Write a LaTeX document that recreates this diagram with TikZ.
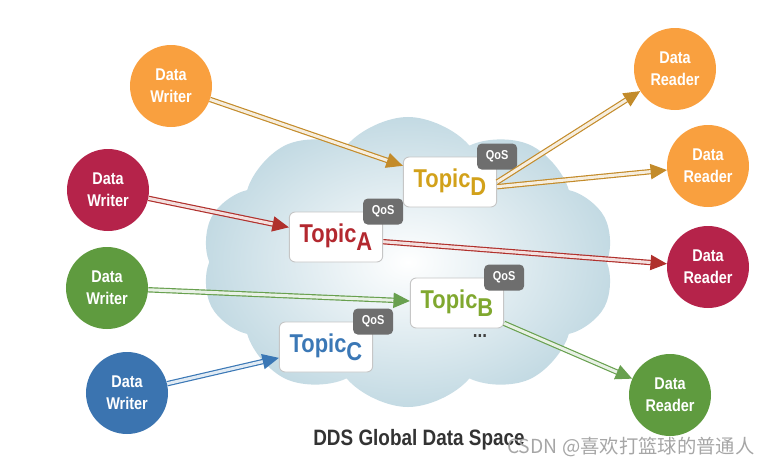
\documentclass[tikz,border=0pt]{standalone}
\usepackage{fontspec}
\usepackage{xcolor}
\usepackage{tikz}
\usetikzlibrary{arrows.meta}
\usetikzlibrary{shapes.symbols}
\usetikzlibrary{positioning}
\newfontfamily\ddsfont[FakeStretch=0.85]{Liberation Sans}
\newfontfamily\cjk{Noto Sans CJK SC}
\definecolor{orgC}{HTML}{F9A03F}
\definecolor{redC}{HTML}{B5234A}
\definecolor{grnC}{HTML}{5F9B3F}
\definecolor{bluC}{HTML}{3B74B0}
\definecolor{cloudC}{HTML}{C3DAE3}
\definecolor{qosC}{HTML}{6E6E6E}
\definecolor{arrO}{HTML}{C38B2A}
\definecolor{arrR}{HTML}{B0302C}
\definecolor{arrG}{HTML}{68A04F}
\definecolor{arrB}{HTML}{3A77B5}
\definecolor{txtD}{HTML}{D2A11A}
\definecolor{txtA}{HTML}{B3282F}
\definecolor{txtB}{HTML}{80A82F}
\definecolor{txtC}{HTML}{3B78B6}
\newcommand{\tsub}[1]{\raisebox{-7pt}{#1}}

\begin{document}
\begin{tikzpicture}[x=0.03cm,y=-0.03cm,
	agent/.style={circle,minimum size=2.46cm,inner sep=0pt,align=center,text=white,font=\ddsfont\bfseries\fontsize{14.5}{19}\selectfont},
	topic/.style={draw=gray!45,line width=0.8pt,fill=white,rounded corners=5pt,minimum width=2.8cm,minimum height=1.5cm,font=\ddsfont\bfseries\fontsize{22}{24}\selectfont},
	qos/.style={fill=qosC,rounded corners=4pt,minimum width=1.2cm,minimum height=0.78cm,inner sep=0pt,text=white,font=\ddsfont\bfseries\fontsize{11}{12}\selectfont},
	flow/.style={draw=#1,double=#1!15,double distance=2.6pt,line width=1pt,-{Triangle[length=14pt,width=13pt,fill=#1,color=#1]}}]
	\useasboundingbox (0,0) rectangle (771,467);
	% global data space
	\node[cloud,cloud puffs=10,cloud puff arc=100,aspect=1.5,minimum width=12.4cm,minimum height=8.7cm,inner color=white,outer color=cloudC] (space) at (408,262) {};
	\node[font=\ddsfont\bfseries\fontsize{19}{20}\selectfont,text=black!80] (title) at (419,440) {DDS Global Data Space};
	% writers and readers
	\node[agent,fill=orgC] (dw1) at (171,86) {Data\\Writer};
	\node[agent,fill=redC] (dw2) at (108,190) {Data\\Writer};
	\node[agent,fill=grnC] (dw3) at (107,288) {Data\\Writer};
	\node[agent,fill=bluC] (dw4) at (127,393) {Data\\Writer};
	\node[agent,fill=orgC] (dr1) at (675,69) {Data\\Reader};
	\node[agent,fill=orgC] (dr2) at (708,166) {Data\\Reader};
	\node[agent,fill=redC] (dr3) at (708,267) {Data\\Reader};
	\node[agent,fill=grnC] (dr4) at (670,395) {Data\\Reader};
	% topics
	\node[topic,text=txtD] (tD) at (450,182) {Topic\tsub{D}};
	\node[topic,text=txtA] (tA) at (336,237) {Topic\tsub{A}};
	\node[topic,text=txtB] (tB) at (457,303) {Topic\tsub{B}};
	\node[topic,text=txtC] (tC) at (326,347) {Topic\tsub{C}};
	\node[qos] (qD) at (tD.north east) {QoS};
	\node[qos] (qA) at (tA.north east) {QoS};
	\node[qos] (qB) at (tB.north east) {QoS};
	\node[qos] (qC) at (tC.north east) {QoS};
	\node[inner sep=0pt,font=\ddsfont\bfseries\fontsize{17}{17}\selectfont,text=black!75] (more) at (480,336) {...};
	% data flows
	\draw[flow=arrO] (dw1) -- (tD);
	\draw[flow=arrO] (tD.east) -- (dr1);
	\draw[flow=arrO] ([yshift=-4pt]tD.east) -- (dr2);
	\draw[flow=arrR] (dw2) -- (tA);
	\draw[flow=arrR] ([yshift=-4pt]tA.east) -- (dr3);
	\draw[flow=arrG] (dw3) -- (tB);
	\draw[flow=arrG] (tB) -- (dr4);
	\draw[flow=arrB] (dw4) -- (tC);
	\node[font=\cjk\fontsize{16.5}{18}\selectfont,text=gray!70,anchor=west] (mark) at (503,447) {CSDN @喜欢打篮球的普通人};
\end{tikzpicture}
\end{document}
